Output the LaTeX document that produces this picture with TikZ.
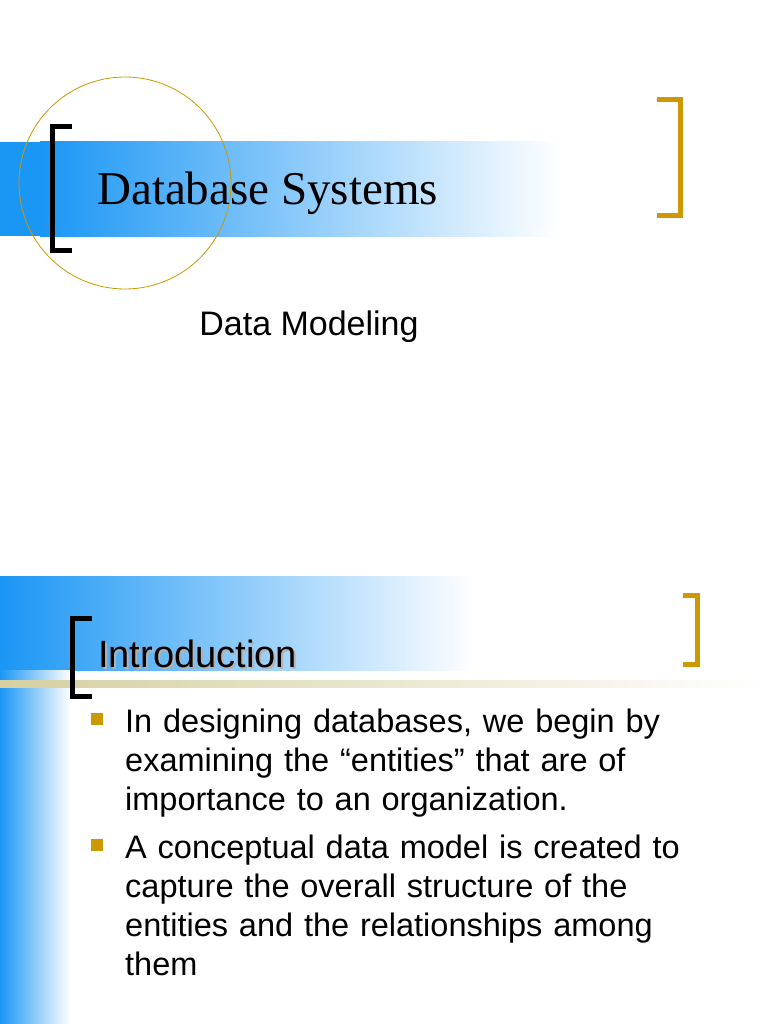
\documentclass[tikz,border=0pt]{standalone}
\usepackage{fontspec}
\setmainfont{Liberation Serif}
\setsansfont{Liberation Sans}
\definecolor{sblue}{HTML}{1A96F5}
\definecolor{gold}{HTML}{CC9900}
\definecolor{khaki}{HTML}{D6CFA0}
\begin{document}
\begin{tikzpicture}[x=1pt,y=-1pt,
  brk/.style={line width=5pt},
  body/.style={font=\sffamily\fontsize{32.5}{39}\selectfont,anchor=north west,align=left,text width=650pt,inner sep=0pt}]
\useasboundingbox (0,0) rectangle (768,1024);
\fill[white] (0,0) rectangle (768,1024);
% slide 1
\fill[sblue] (0,142) rectangle (40,236);
\shade[left color=sblue,right color=white] (40,142) rectangle (560,236);
\draw[gold,line width=0.8pt] (125,183) circle (106);
\draw[brk,black] (72,127) -- (52,127) -- (52,250) -- (72,250);
\draw[brk,gold] (657,100) -- (680,100) -- (680,216) -- (657,216);
\node[anchor=west,font=\fontsize{47}{54}\selectfont,inner sep=0pt] (t1) at (97,193) {Database Systems};
\node[font=\sffamily\fontsize{34}{40}\selectfont] (st) at (309,327) {Data Modeling};
% slide 2
\shade[left color=sblue,right color=white] (0,576) rectangle (474,670);
\shade[left color=sblue,right color=white] (0,670) rectangle (70,1024);
\shade[left color=khaki,right color=white] (0,680) rectangle (768,687);
\draw[brk,black] (92,618) -- (72,618) -- (72,696) -- (92,696);
\draw[brk,gold] (683,595) -- (697,595) -- (697,664) -- (683,664);
\node[anchor=west,font=\sffamily\fontsize{38}{44}\selectfont,text=black!30,inner sep=0pt] at (100,656) {Introduction};
\node[anchor=west,font=\sffamily\fontsize{38}{44}\selectfont,inner sep=0pt] (t2) at (98,654) {Introduction};
\fill[gold] (91,713) rectangle (103,725);
\node[body] (b1) at (125,709) {In designing databases, we begin by\\examining the “entities” that are of\\importance to an organization.};
\fill[gold] (91,839) rectangle (103,851);
\node[body] (b2) at (125,835) {A conceptual data model is created to\\capture the overall structure of the\\entities and the relationships among\\them};
\end{tikzpicture}
\end{document}
